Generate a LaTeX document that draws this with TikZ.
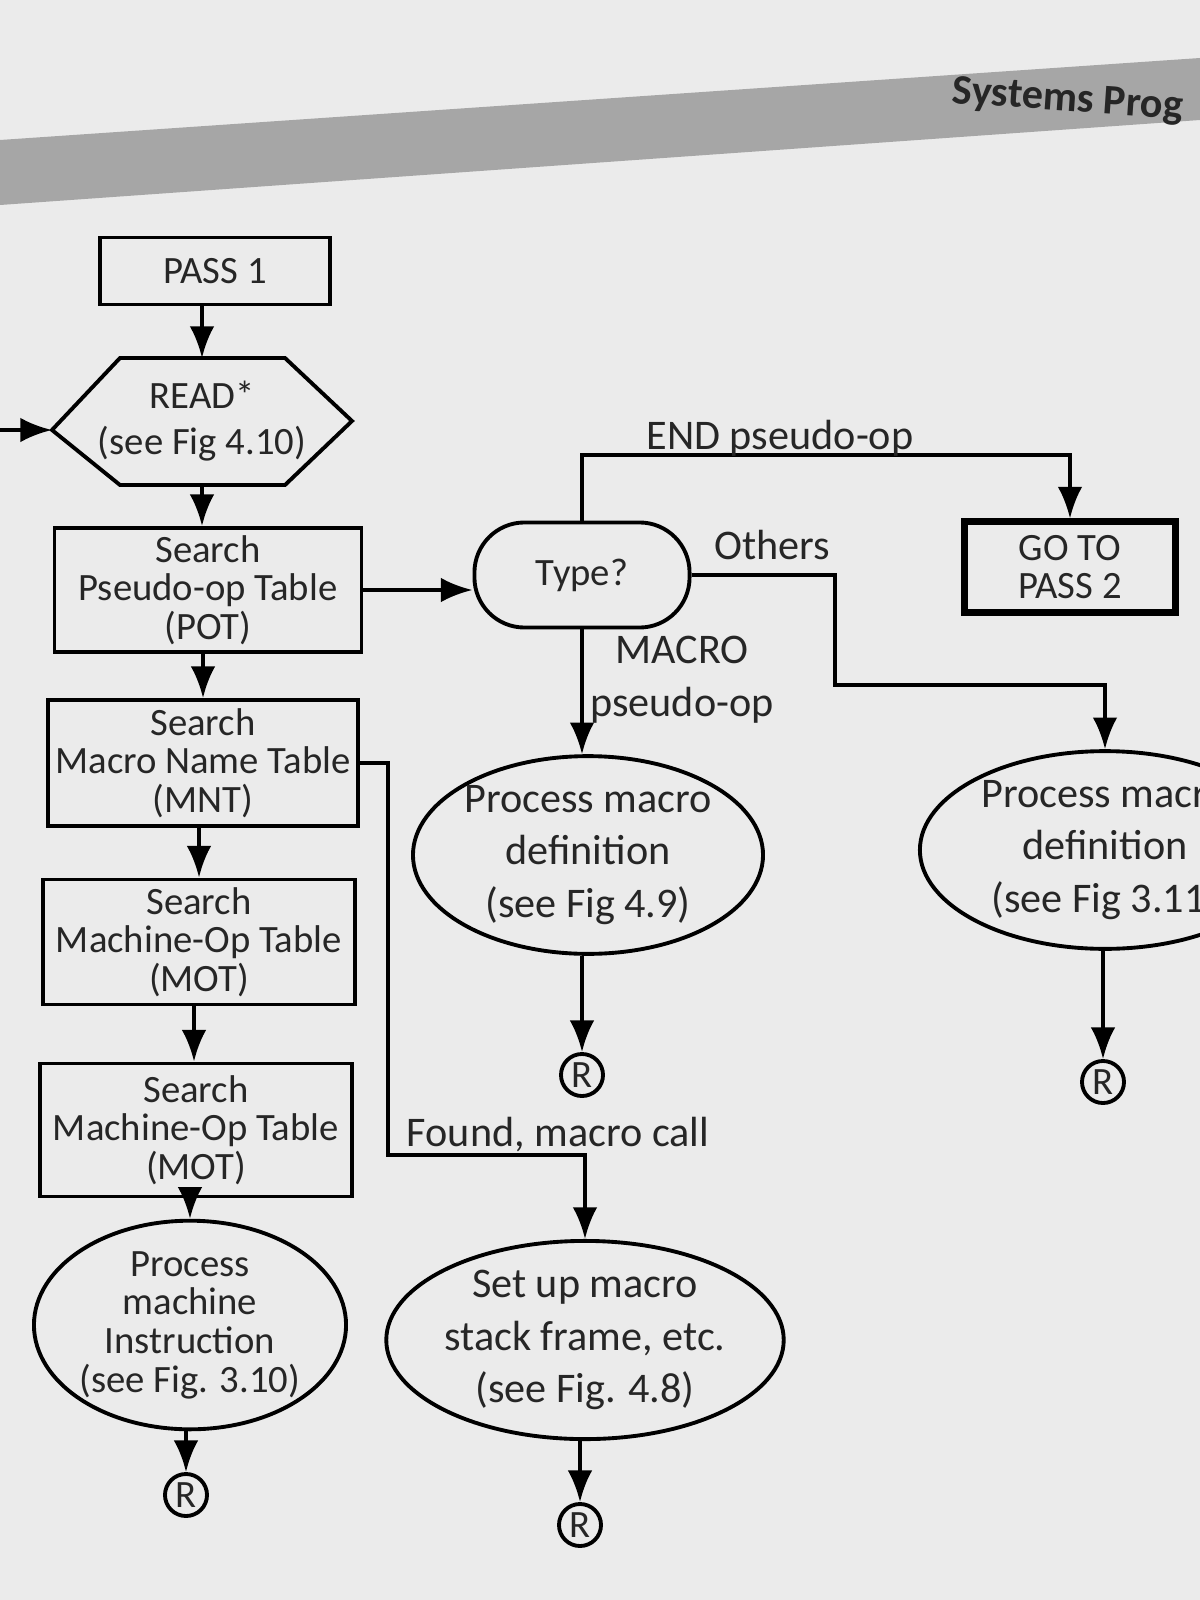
\documentclass[tikz,border=0pt]{standalone}
\usepackage{fontspec}
\setmainfont{Carlito}
\usetikzlibrary{shapes.geometric,arrows.meta}
\begin{document}
\begin{tikzpicture}[x=0.01cm,y=-0.01cm,
  every node/.style={font=\fontsize{11}{11}\selectfont,align=center,text=black!85},
  box/.style={draw,line width=1.1pt,minimum width=#1*0.01cm,minimum height=1.22cm,inner sep=1pt},
  oval/.style={draw,ellipse,line width=1.1pt,inner sep=0pt},
  ret/.style={draw,circle,line width=1.1pt,minimum size=0.42cm,inner sep=0pt,font=\fontsize{11}{11}\selectfont},
  arr/.style={line width=1.1pt,-{Latex[length=9pt,width=7pt]}},
  big/.style={font=\fontsize{12}{15}\selectfont}]
\useasboundingbox (0,0) rectangle (1200,1600);
\clip (0,0) rectangle (1200,1600);
\fill[black!8] (0,0) rectangle (1200,1600);
\fill[black!35] (0,140) -- (1200,58) -- (1200,120) -- (0,205) -- cycle;
\node[rotate=-4,font=\bfseries\fontsize{12}{12}\selectfont,anchor=west] (hdr) at (940,92) {Systems Prog};

\node[box=230,minimum height=0.67cm] (p1) at (215,271) {PASS 1};
\coordinate (rdw) at (52,430);
\coordinate (rdn) at (202,358);
\coordinate (rds) at (202,485);
\draw[line width=1.1pt] (rdw) -- (120,358) -- (285,358) -- (352,421) -- (285,485) -- (120,485) -- cycle;
\node (rdt) at (202,421) {READ*\\[2pt](see Fig 4.10)};
\coordinate (lin) at (0,430);
\node[box=307,minimum height=1.24cm] (pot) at (208,590) {Search\\Pseudo-op Table\\(POT)};
\node[box=310,minimum height=1.26cm] (mnt) at (203,763) {Search\\Macro Name Table\\(MNT)};
\node[box=312,minimum height=1.25cm] (mot) at (199,942) {Search\\Machine-Op Table\\(MOT)};
\node[box=312,minimum height=1.33cm] (mot2) at (196,1130) {Search\\Machine-Op Table\\(MOT)};
\node[oval,minimum width=3.1cm,minimum height=1.5cm] (pm) at (190,1325) {Process\\machine\\Instruction\\(see Fig. 3.10)};
\node[ret] (r1) at (186,1495) {R};

\node[draw,rounded corners=0.5cm,line width=1.1pt,minimum width=2.15cm,minimum height=1.05cm] (ty) at (582,575) {Type?};
\node[draw,line width=2pt,minimum width=2.1cm,minimum height=0.9cm] (go) at (1070,567) {GO TO\\PASS 2};
\node[oval,big,minimum width=3.25cm,minimum height=1.6cm] (pd) at (588,855) {Process macro\\definition\\(see Fig 4.9)};
\node[ret] (r2) at (582,1075) {R};
\node[oval,big,minimum width=3.7cm,minimum height=1.6cm] (pd2) at (1105,850) {Process macro\\definition\\(see Fig 3.11)};
\node[ret] (r3) at (1103,1082) {R};
\node[oval,big,minimum width=3.3cm,minimum height=1.6cm] (su) at (585,1340) {Set up macro\\stack frame, etc.\\(see Fig. 4.8)};
\node[ret] (r4) at (580,1525) {R};

\draw[arr] (lin) -- (rdw);
\draw[arr] (p1.south -| rdn) -- (rdn);
\draw[arr] (rds) -- (pot.north -| rds);
\draw[arr] (pot.south -| 203,0) -- (mnt.north -| 203,0);
\draw[arr] (mnt.south -| 199,0) -- (mot.north -| 199,0);
\draw[arr] (mot.south -| 194,0) -- (mot2.north -| 194,0);
\draw[arr] (mot2.south -| 190,0) -- (pm.north -| 190,0);
\draw[arr] (pm.south -| r1) -- (r1);
\draw[arr] (pot.east) -- (ty.west |- pot.east);
\draw[arr] (ty.north) |- (1070,455) -- (go.north);
\draw[arr] (ty.east) -| (835,685) -| (pd2.north);
\draw[arr] (ty.south) -- (pd.north -| ty.south);
\draw[arr] (pd.south -| r2) -- (r2);
\draw[arr] (pd2.south -| r3) -- (r3);
\draw[arr] (mnt.east) -| (388,1155) -| (su.north);
\draw[arr] (su.south -| r4) -- (r4);

\node[big] (l1) at (780,438) {END pseudo-op};
\node[big] (l2) at (772,545) {Others};
\node[big] (l3) at (682,680) {MACRO\\pseudo-op};
\node[big] (l4) at (558,1135) {Found, macro call};
\end{tikzpicture}
\end{document}
